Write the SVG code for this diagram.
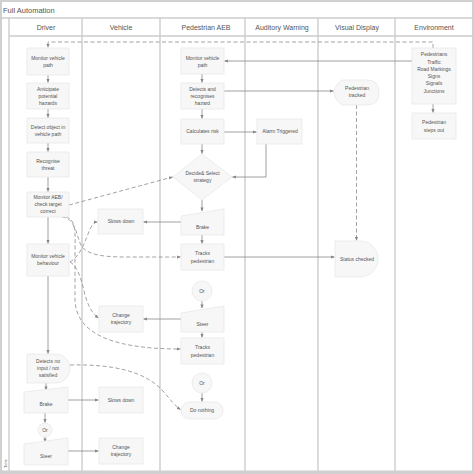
<svg xmlns="http://www.w3.org/2000/svg" width="474" height="474" viewBox="0 0 474 474">
<defs>
<marker id="ah" viewBox="0 0 10 10" refX="9" refY="5" markerWidth="4" markerHeight="4" orient="auto" markerUnits="userSpaceOnUse">
<path d="M0,1 L10,5 L0,9 Z" fill="#888"/>
</marker>
</defs>
<style>
text{font-family:"Liberation Sans",Arial,sans-serif;fill:#555;text-anchor:middle}
.n{font-size:5px}
.h{font-size:7px}
.nd{fill:#f7f7f7;stroke:#e9e9e9;stroke-width:0.8}
.lane{stroke:#cccccc;stroke-width:1.4;fill:none}
.c{stroke:#888;stroke-width:0.8;fill:none;marker-end:url(#ah)}
.d{stroke:#8a8a8a;stroke-width:0.8;fill:none;stroke-dasharray:4,2.5;marker-end:url(#ah)}
</style>
<rect x="0" y="0" width="474" height="474" fill="#fff"/>
<g id="frame">
<rect x="1" y="1" width="472" height="472" fill="none" stroke="#d0d0d0" stroke-width="2"/>
<line x1="0" y1="18" x2="474" y2="18" class="lane"/>
<line x1="9" y1="36" x2="472" y2="36" class="lane"/>
<line x1="9" y1="18" x2="9" y2="472" class="lane"/>
<line x1="82" y1="18" x2="82" y2="472" class="lane"/>
<line x1="160" y1="18" x2="160" y2="472" class="lane"/>
<line x1="245" y1="18" x2="245" y2="472" class="lane"/>
<line x1="318" y1="18" x2="318" y2="472" class="lane"/>
<line x1="395" y1="18" x2="395" y2="472" class="lane"/>
<line x1="0" y1="472" x2="474" y2="472" stroke="#d0d0d0" stroke-width="3"/>
<text x="3" y="12.5" style="font-size:7.5px;text-anchor:start">Full Automation</text>
<text x="46" y="29.5" class="h">Driver</text>
<text x="121" y="29.5" class="h">Vehicle</text>
<text x="206" y="29.5" class="h">Pedestrian AEB</text>
<text x="282" y="29.5" class="h">Auditory Warning</text>
<text x="357" y="29.5" class="h">Visual Display</text>
<text x="434" y="29.5" class="h">Environment</text>
<text x="0" y="0" transform="translate(6.5,468) rotate(-90)" style="font-size:4px;text-anchor:start">Time</text>
</g>
<g id="connectors">
<path class="d" d="M433,48 L433,42 L48,42 L48,47.5"/>
<path class="c" d="M48,75 L48,82.5"/>
<path class="c" d="M48,109 L48,117.5"/>
<path class="c" d="M48,143 L48,151.5"/>
<path class="c" d="M48,177 L48,191.5"/>
<path class="c" d="M48,217 L48,243.5"/>
<path class="c" d="M48,276 L48,353.5"/>
<path class="c" d="M46,383 L46,390"/>
<path class="c" d="M45,413 L45,422.5"/>
<path class="c" d="M45,437 L45,442"/>
<path class="c" d="M68,400 L98.5,400"/>
<path class="c" d="M68,451 L98.5,451"/>
<path class="c" d="M412,61 L224.5,61"/>
<path class="c" d="M224,91 L333.5,91"/>
<path class="c" d="M202,74 L202,82.5"/>
<path class="c" d="M202,109 L202,118.5"/>
<path class="c" d="M202,144 L202,153.5"/>
<path class="c" d="M202,200 L202,211"/>
<path class="c" d="M202,235 L202,243.5"/>
<path class="c" d="M224,132 L256.5,132"/>
<path class="c" d="M266,144 L266,177 L232.5,177"/>
<path class="c" d="M181,222 L143.5,222"/>
<path class="c" d="M224,257 L334.5,257"/>
<path class="c" d="M202,301 L202,308"/>
<path class="c" d="M181,319 L143.5,319"/>
<path class="c" d="M202,332 L202,337.5"/>
<path class="c" d="M202,393 L202,401.5"/>
<path class="c" d="M433,104 L433,112.5"/>
<path class="d" d="M356.5,105 L356.5,240.5"/>
<path class="d" d="M69,205 L172.5,177"/>
<path class="d" d="M62,217 C74,218 76,232 80,243 C84,254 100,257 125,257 L180.5,257"/>
<path class="d" d="M66,217 C77,220 75,234 75,255 L75,300 C76,330 105,349 180.5,349"/>
<path class="d" d="M70,262 C80,256 84,244 88,234 C91,226 94,222 97.5,222"/>
<path class="d" d="M70,262 C80,268 82,285 86,298 C89,308 93,314 98.5,318"/>
<path class="d" d="M70,365 C115,364 145,372 162,390 C170,399 175,406 180.5,409.5"/>
</g>
<g id="driver-monitor-path"><rect class="nd" x="27" y="48" width="42" height="27"/><text class="n" x="48" y="60">Monitor vehicle</text><text class="n" x="48" y="67">path</text></g>
<g id="driver-anticipate"><rect class="nd" x="27" y="83" width="42" height="26"/><text class="n" x="48" y="90.5">Anticipate</text><text class="n" x="48" y="97.7">potential</text><text class="n" x="48" y="104.9">hazards</text></g>
<g id="driver-detect"><rect class="nd" x="27" y="118" width="42" height="25"/><text class="n" x="48" y="128.6">Detect object in</text><text class="n" x="48" y="135.8">vehicle path</text></g>
<g id="driver-recognise"><rect class="nd" x="27" y="152" width="42" height="25"/><text class="n" x="48" y="162.6">Recognise</text><text class="n" x="48" y="169.8">threat</text></g>
<g id="driver-monitor-aeb"><rect class="nd" x="27" y="192" width="42" height="25"/><text class="n" x="48" y="199.3">Monitor AEB/</text><text class="n" x="48" y="206.3">check target</text><text class="n" x="48" y="213.3">correct</text></g>
<g id="driver-monitor-behaviour"><rect class="nd" x="27" y="244" width="42" height="32"/><text class="n" x="48" y="258.2">Monitor vehicle</text><text class="n" x="48" y="265.4">behaviour</text></g>
<g id="driver-detects-no-input"><path class="nd" d="M27,354 L56,354 A14,14.5 0 0 1 56,383 L27,383 Z"/><text class="n" x="48" y="363.3">Detects no</text><text class="n" x="48" y="370.3">input / not</text><text class="n" x="48" y="377.3">satisfied</text></g>
<g id="driver-brake"><path class="nd" d="M24,392 L68,387 L68,413 L24,413 Z"/><text class="n" x="46" y="405.5">Brake</text></g>
<g id="driver-or"><circle class="nd" cx="45" cy="430" r="7"/><text class="n" x="45" y="431.8">Or</text></g>
<g id="driver-steer"><path class="nd" d="M24,444 L68,438 L68,465 L24,465 Z"/><text class="n" x="46" y="457.5">Steer</text></g>
<g id="veh-slows-1"><rect class="nd" x="98" y="209" width="45" height="25"/><text class="n" x="121" y="223.3">Slows down</text></g>
<g id="veh-change-1"><rect class="nd" x="99" y="306" width="44" height="26"/><text class="n" x="121" y="317">Change</text><text class="n" x="121" y="324.2">trajectory</text></g>
<g id="veh-slows-2"><rect class="nd" x="99" y="387" width="44" height="26"/><text class="n" x="121" y="401.8">Slows down</text></g>
<g id="veh-change-2"><rect class="nd" x="99" y="438" width="44" height="26"/><text class="n" x="121" y="449">Change</text><text class="n" x="121" y="456.2">trajectory</text></g>
<g id="aeb-monitor"><rect class="nd" x="181" y="48" width="43" height="26"/><text class="n" x="202.5" y="59.5">Monitor vehicle</text><text class="n" x="202.5" y="66.7">path</text></g>
<g id="aeb-detects"><rect class="nd" x="181" y="83" width="43" height="26"/><text class="n" x="202.5" y="91">Detects and</text><text class="n" x="202.5" y="98.2">recognises</text><text class="n" x="202.5" y="105.4">hazard</text></g>
<g id="aeb-calculates"><rect class="nd" x="181" y="119" width="43" height="25"/><text class="n" x="202.5" y="133.3">Calculates risk</text></g>
<g id="aeb-decide"><path class="nd" d="M202,154 L232,177 L202,200 L173,177 Z"/><text class="n" x="202.5" y="174.5">Decide&amp; Select</text><text class="n" x="202.5" y="181.7">strategy</text></g>
<g id="aeb-brake"><path class="nd" d="M181,216 L224,209 L224,235 L181,235 Z"/><text class="n" x="202.5" y="228.8">Brake</text></g>
<g id="aeb-tracks-1"><rect class="nd" x="181" y="244" width="43" height="26"/><text class="n" x="202.5" y="255.3">Tracks</text><text class="n" x="202.5" y="262.5">pedestrian</text></g>
<g id="aeb-or-1"><circle class="nd" cx="202" cy="291" r="10"/><text class="n" x="202" y="292.8">Or</text></g>
<g id="aeb-steer"><path class="nd" d="M181,313 L224,306 L224,332 L181,332 Z"/><text class="n" x="202.5" y="325.5">Steer</text></g>
<g id="aeb-tracks-2"><rect class="nd" x="181" y="338" width="43" height="26"/><text class="n" x="202.5" y="349.3">Tracks</text><text class="n" x="202.5" y="356.5">pedestrian</text></g>
<g id="aeb-or-2"><circle class="nd" cx="202" cy="383" r="10"/><text class="n" x="202" y="384.8">Or</text></g>
<g id="aeb-do-nothing"><rect class="nd" x="181" y="402" width="42" height="17" rx="8.5"/><text class="n" x="202" y="412.3">Do nothing</text></g>
<g id="aud-alarm"><rect class="nd" x="257" y="119" width="45" height="25"/><text class="n" x="280" y="133.3">Alarm Triggered</text></g>
<g id="vis-tracked"><path class="nd" d="M342,80 L367,80 Q379,80 379,92.5 Q379,105 367,105 L342,105 Q334,99 334,92.5 Q334,86 342,80 Z"/><text class="n" x="357" y="90">Pedestrian</text><text class="n" x="357" y="97.2">tracked</text></g>
<g id="vis-status"><path class="nd" d="M335,241 L360,241 A18,18 0 0 1 360,277 L335,277 Z"/><text class="n" x="357" y="260.8">Status checked</text></g>
<g id="env-list"><rect class="nd" x="412" y="48" width="44" height="56"/><text class="n" x="434" y="56.2">Pedestrians</text><text class="n" x="434" y="63.5">Traffic</text><text class="n" x="434" y="70.8">Road Markings</text><text class="n" x="434" y="78.1">Signs</text><text class="n" x="434" y="85.4">Signals</text><text class="n" x="434" y="92.7">Junctions</text></g>
<g id="env-steps-out"><rect class="nd" x="412" y="113" width="44" height="26"/><text class="n" x="434" y="124.3">Pedestrian</text><text class="n" x="434" y="131.5">steps out</text></g>
</svg>
